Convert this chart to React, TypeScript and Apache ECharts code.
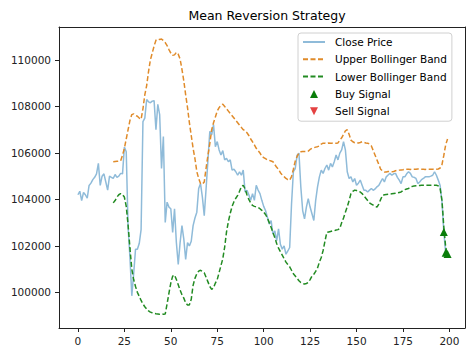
import React, { useEffect, useRef } from "react";
import * as echarts from "echarts";

const title = "Mean Reversion Strategy";
const xTicks = [0, 25, 50, 75, 100, 125, 150, 175, 200];
const yTicks = [100000, 102000, 104000, 106000, 108000, 110000];

// Close price, index 0..199
const closePrice = [
  104200, 104350, 103950, 104300, 104200, 104050, 104600, 104700, 104850, 104950,
  105100, 105550, 104600, 105000, 105100, 104750, 104400, 105000, 104950, 104900,
  105070, 104950, 105000, 105120, 105100, 106250, 106050, 102800, 101500, 99850,
  100800, 101850, 101850, 102100, 102700, 107350, 107500, 108300, 108200, 108160,
  108230, 108250, 107000, 108090, 107650, 105330, 106710, 103010, 103880, 103670,
  103600, 102580, 103600, 102140, 101200, 102140, 102870, 102290, 101420, 102140,
  102000, 102200, 102870, 103200, 103450, 104470, 104680, 104100, 103300, 104470,
  105700, 106930, 106780, 107220, 106270, 106490, 106130, 105910, 106100, 105700,
  105770, 105620, 105700, 105260, 105300, 105190, 105040, 105190, 105040, 105260,
  104320, 104390, 104200, 103960, 104250, 103960, 104610, 104400, 104250, 103960,
  103700, 103520, 103230, 102940, 103090, 102500, 102650, 102220, 102730, 102070,
  101860, 102000, 101640, 101780, 101930, 103800, 105200, 105330, 105900, 105990,
  104540, 103520, 103160, 103670, 104030, 103670, 103380, 103090, 103960, 104540,
  104970, 105260, 105120, 105330, 105480, 105260, 105550, 105400, 105620, 105910,
  105700, 105990, 106130, 106490, 106130, 105190, 104900, 104970, 104750, 104900,
  104610, 104700, 104830, 104610, 104390, 104390, 104320, 104400, 104470, 104390,
  104450, 104540, 104600, 104750, 104900, 104750, 104970, 105050, 105120, 105040,
  105100, 105120, 104950, 104830, 104680, 104970, 104970, 105100, 105190, 105120,
  104970, 104950, 104900, 104680, 104750, 104850, 104900, 104970, 104970, 104970,
  105000, 105040, 105190, 105040, 104830, 104600, 103900, 102600, 101700, 101650,
];

// Bands start at index 19 (20-period window)
const bandStart = 19;
const upperBand = [
  105620, 105630, 105640, 105650, 105660, 105900, 106200, 106600, 107000, 107400, // 19-28
  107650, 107680, 107620, 107580, 107500, 107450, 107900, 108500, 108900, 109500, // 29-38
  110000, 110300, 110600, 110850, 110900, 110880, 110900, 110840, 110750, 110620, // 39-48
  110450, 110300, 110200, 110220, 110330, 110250, 110040, 109600, 109100, 108500, // 49-58
  107950, 107300, 106750, 106200, 105750, 105200, 104900, 104680, 104650, 104750, // 59-68
  105350, 105900, 106400, 107000, 107300, 107550, 107800, 107950, 108050, 108100, // 69-78
  108000, 107900, 107800, 107700, 107600, 107500, 107400, 107300, 107200, 107100, // 79-88
  107000, 106950, 106870, 106750, 106600, 106480, 106350, 106200, 106100, 106000, // 89-98
  105850, 105800, 105750, 105700, 105680, 105650, 105620, 105500, 105380, 105300, // 99-108
  105150, 105050, 104980, 104900, 104850, 104830, 104980, 105300, 105650, 105850, // 109-118
  106000, 106050, 106060, 106060, 106060, 106080, 106150, 106200, 106220, 106250, // 119-128
  106270, 106300, 106380, 106420, 106420, 106400, 106430, 106420, 106420, 106400, // 129-138
  106420, 106430, 106550, 106650, 106800, 106950, 107000, 106800, 106550, 106480, // 139-148
  106440, 106420, 106430, 106450, 106480, 106460, 106430, 106420, 106380, 106300, // 149-158
  106100, 105900, 105700, 105500, 105300, 105220, 105180, 105180, 105200, 105200, // 159-168
  105190, 105200, 105230, 105250, 105260, 105270, 105280, 105300, 105300, 105300, // 169-178
  105290, 105300, 105300, 105300, 105310, 105300, 105300, 105300, 105290, 105300, // 179-188
  105300, 105300, 105300, 105290, 105300, 105310, 105350, 105500, 105900, 106350, // 189-198
  106600, // 199
];
const lowerBand = [
  103850, 103950, 104100, 104200, 104250, 104200, 104100, 103700, 102900, 101900, // 19-28
  101000, 100550, 100250, 100000, 99830, 99650, 99500, 99380, 99280, 99200, // 29-38
  99150, 99120, 99100, 99080, 99070, 99060, 99070, 99060, 99070, 99500, // 39-48
  99970, 100400, 100700, 100750, 100550, 100330, 100100, 99900, 99750, 99550, // 49-58
  99460, 99460, 99700, 100300, 100600, 100800, 100910, 100950, 100900, 100840, // 59-68
  100650, 100450, 100250, 100130, 100200, 100400, 100550, 100850, 101150, 101450, // 69-78
  101950, 102600, 103050, 103400, 103700, 103900, 104050, 104170, 104350, 104550, // 79-88
  104610, 104450, 104200, 104000, 103850, 103740, 103700, 103680, 103650, 103600, // 89-98
  103530, 103450, 103350, 103200, 103000, 102800, 102580, 102350, 102100, 101900, // 99-108
  101750, 101600, 101450, 101300, 101200, 101100, 100950, 100800, 100700, 100600, // 109-118
  100500, 100420, 100380, 100360, 100380, 100420, 100550, 100700, 100780, 100900, // 119-128
  101050, 101300, 101500, 101800, 102200, 102580, 102600, 102620, 102640, 102650, // 129-138
  102680, 102700, 102750, 103000, 103200, 103450, 103680, 103950, 104250, 104350, // 139-148
  104400, 104380, 104350, 104320, 104250, 104150, 104050, 103950, 103850, 103800, // 149-158
  103750, 103700, 103670, 103800, 104000, 104170, 104200, 104210, 104220, 104230, // 159-168
  104240, 104250, 104260, 104280, 104300, 104320, 104380, 104420, 104450, 104470, // 169-178
  104520, 104560, 104580, 104590, 104600, 104600, 104610, 104610, 104610, 104610, // 179-188
  104610, 104610, 104610, 104610, 104610, 104580, 104470, 103960, 102800, 101950, // 189-198
  101600, // 199
];

const buyIndex = [197, 198, 199];
const buyPrice = [102600, 101700, 101650];
const sellIndex: number[] = [];
const sellPrice: number[] = [];

const FONT = "DejaVu Sans";
const X_MIN = -10.2;
const X_MAX = 208.4;
const Y_MIN = 98465;
const Y_MAX = 111420;
const FRAME = "#222";
const UP_TRI = "path://M5,0L10,10L0,10Z";
const DOWN_TRI = "path://M0,0L10,0L5,10Z";

export default function App() {
  const ref = useRef<HTMLDivElement>(null);
  useEffect(() => {
    if (!ref.current) return;
    const chart = echarts.init(ref.current, undefined, { renderer: "svg" });
    const closeData = closePrice.map((v, i) => [i, v]);
    const upperData = upperBand.map((v, i) => [i + bandStart, v]);
    const lowerData = lowerBand.map((v, i) => [i + bandStart, v]);
    const buyData = buyIndex.map((x, i) => [x, buyPrice[i]]);
    const sellData = sellIndex.map((x, i) => [x, sellPrice[i]]);

    const frameAxis = {
      axisLine: { show: true, onZero: false, lineStyle: { color: FRAME, width: 1 } },
      axisTick: { show: false },
      axisLabel: { show: false },
      splitLine: { show: false },
    };

    chart.setOption({
      animation: false,
      backgroundColor: "#ffffff",
      title: {
        text: title,
        left: 262,
        top: 4,
        textAlign: "center",
        textStyle: { fontFamily: FONT, fontSize: 12.5, fontWeight: "normal", color: "#000" },
      },
      grid: {
        left: 59,
        right: 9,
        top: 27,
        bottom: 28,
      },
      legend: {
        orient: "vertical",
        left: 298,
        top: 33,
        padding: [3, 5, 4, 4],
        itemWidth: 22,
        itemHeight: 8,
        itemGap: 5.3,
        symbolKeepAspect: true,
        borderColor: "#d0d0d0",
        borderWidth: 1,
        borderRadius: 3,
        backgroundColor: "rgba(255,255,255,0.8)",
        textStyle: {
          fontFamily: FONT,
          fontSize: 10.5,
          color: "#000",
          lineHeight: 12,
          padding: [0, 0, 0, 5],
        },
        data: [
          { name: "Close Price", itemStyle: { opacity: 0 } },
          { name: "Upper Bollinger Band", itemStyle: { opacity: 0 } },
          { name: "Lower Bollinger Band", itemStyle: { opacity: 0 } },
          { name: "Buy Signal", icon: UP_TRI },
          { name: "Sell Signal", icon: DOWN_TRI },
        ],
      },
      xAxis: [
        {
          type: "value",
          position: "bottom",
          min: X_MIN,
          max: X_MAX,
          splitLine: { show: false },
          axisLine: { show: true, onZero: false, lineStyle: { color: FRAME, width: 1 } },
          axisTick: {
            show: true,
            length: 4,
            lineStyle: { color: FRAME },
            customValues: xTicks,
          },
          axisLabel: {
            fontFamily: FONT,
            fontSize: 10.5,
            color: "#222",
            margin: 7,
            customValues: xTicks,
            formatter: (v: number) => String(v),
          },
        },
        { type: "value", position: "top", min: X_MIN, max: X_MAX, ...frameAxis },
      ],
      yAxis: [
        {
          type: "value",
          position: "left",
          min: Y_MIN,
          max: Y_MAX,
          splitLine: { show: false },
          axisLine: { show: true, onZero: false, lineStyle: { color: FRAME, width: 1 } },
          axisTick: {
            show: true,
            length: 4,
            lineStyle: { color: FRAME },
            customValues: yTicks,
          },
          axisLabel: {
            fontFamily: FONT,
            fontSize: 10.5,
            color: "#222",
            margin: 8,
            customValues: yTicks,
            formatter: (v: number) => String(v),
          },
        },
        { type: "value", position: "right", min: Y_MIN, max: Y_MAX, ...frameAxis },
      ],
      series: [
        {
          name: "Close Price",
          type: "line",
          data: closeData,
          symbol: "none",
          showSymbol: false,
          lineStyle: { color: "#8fbbd9", width: 1.5 },
          itemStyle: { color: "#8fbbd9" },
          z: 2,
        },
        {
          name: "Upper Bollinger Band",
          type: "line",
          data: upperData,
          symbol: "none",
          showSymbol: false,
          lineStyle: { color: "#e08b2a", width: 1.5, type: [5, 2.5] },
          itemStyle: { color: "#e08b2a" },
          z: 3,
        },
        {
          name: "Lower Bollinger Band",
          type: "line",
          data: lowerData,
          symbol: "none",
          showSymbol: false,
          lineStyle: { color: "#228b22", width: 1.5, type: [5, 2.5] },
          itemStyle: { color: "#228b22" },
          z: 3,
        },
        {
          name: "Buy Signal",
          type: "scatter",
          data: buyData,
          symbol: UP_TRI,
          symbolSize: 8,
          itemStyle: { color: "#0a7d0a", opacity: 1 },
          z: 5,
        },
        {
          name: "Sell Signal",
          type: "scatter",
          data: sellData,
          symbol: DOWN_TRI,
          symbolSize: 8,
          itemStyle: { color: "#dd1111" },
          z: 5,
        },
      ],
    });
    return () => chart.dispose();
  }, []);
  return (
    <div
      ref={ref}
      style={{ position: "fixed", left: 0, top: 0, width: 474, height: 356 }}
    />
  );
}
